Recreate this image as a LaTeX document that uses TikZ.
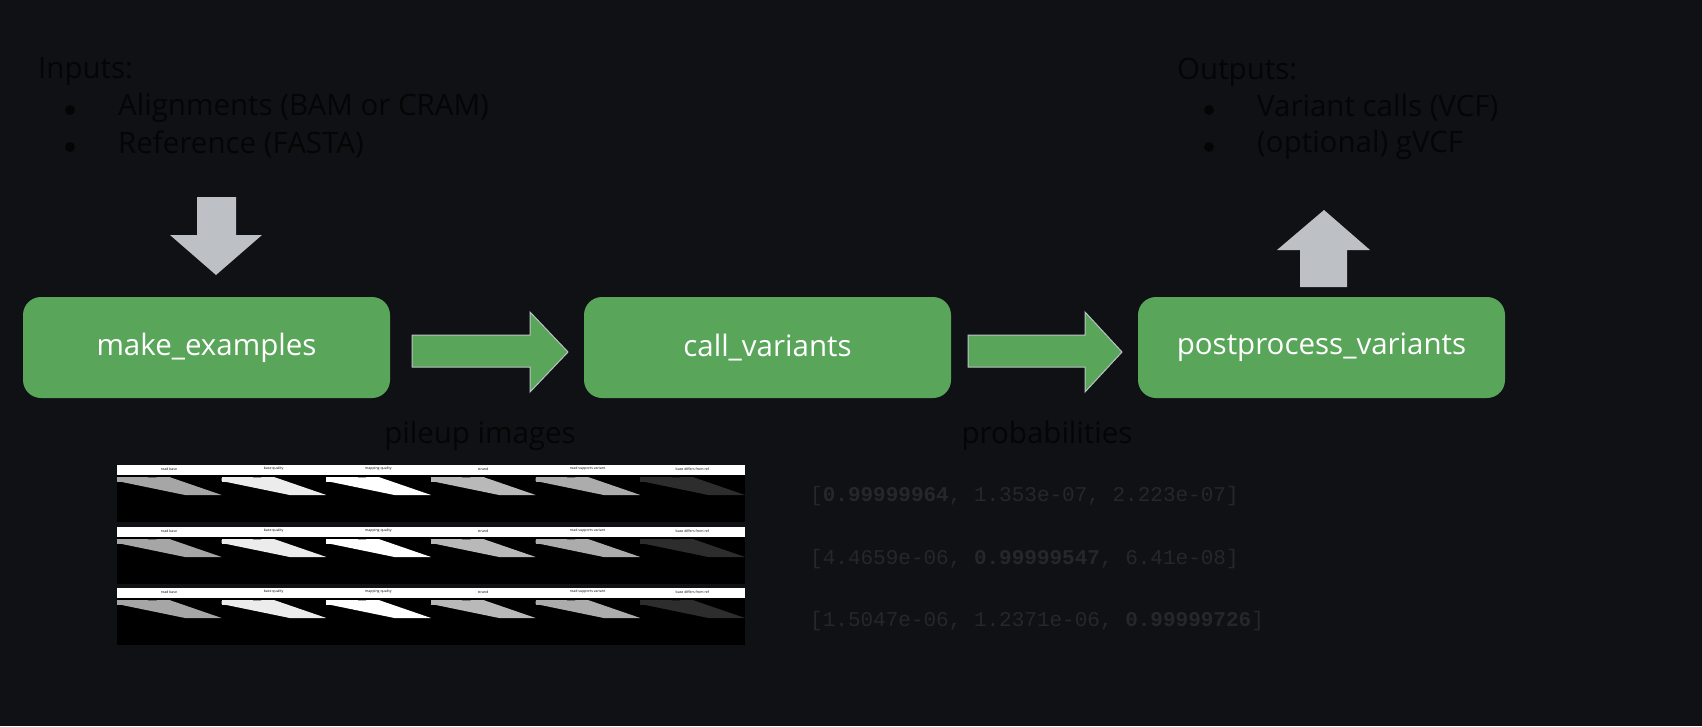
\documentclass[tikz,border=0pt]{standalone}
\usepackage{fontspec}
\setmainfont{Open Sans}
\newfontfamily\monof{Liberation Mono}
\begin{document}
\definecolor{bg}{HTML}{0F1115}
\definecolor{gr}{HTML}{59A55A}
\definecolor{lg}{HTML}{BDC1C6}
\definecolor{tx}{HTML}{050505}
\definecolor{pt}{HTML}{25272B}
\begin{tikzpicture}[x=1pt,y=-1pt,
  box/.style={fill=gr,rounded corners=18pt,minimum width=367pt,minimum height=101pt,text=white,font=\fontsize{29.5}{32}\selectfont,inner sep=0},
  lab/.style={text=tx,font=\fontsize{29.5}{34}\selectfont,anchor=west,inner sep=0},
  bul/.style={circle,fill=tx,minimum size=10pt,inner sep=0},
  prob/.style={text=pt,font=\monof\fontsize{21}{24}\selectfont,anchor=west,inner sep=0},
  hdr/.style={font=\fontsize{3.5}{4}\selectfont,text=black,inner sep=0}]
\fill[bg] (0,0) rectangle (1702,726);
\useasboundingbox (0,0) rectangle (1702,726);
\node[box] (me) at (206.5,347.5) {make\_examples};
\node[box] (cv) at (767.5,347.5) {call\_variants};
\node[box] (pp) at (1321.5,347.5) {postprocess\_variants};
% right arrows
\draw[fill=gr,draw=lg,line width=1pt] (412,335)--(530,335)--(530,312)--(568,352)--(530,392)--(530,367)--(412,367)--cycle;
\draw[fill=gr,draw=lg,line width=1pt] (968,335)--(1085,335)--(1085,312)--(1122,352)--(1085,392)--(1085,367)--(968,367)--cycle;
% down / up arrows
\fill[lg] (197,197)--(236,197)--(236,235)--(262,235)--(216,275)--(170,235)--(197,235)--cycle;
\fill[lg] (1300,287)--(1347,287)--(1347,250)--(1370,250)--(1324,210)--(1277,250)--(1300,250)--cycle;
% text
\node[lab] (in) at (38,72) {Inputs:};
\node[bul] (b1) at (70,110) {};
\node[lab] (i1) at (118,108) {Alignments (BAM or CRAM)};
\node[bul] (b2) at (70,147) {};
\node[lab] (i2) at (118,145) {Reference (FASTA)};
\node[lab] (out) at (1177,72) {Outputs:};
\node[bul] (b3) at (1209,110) {};
\node[lab] (o1) at (1257,108) {Variant calls (VCF)};
\node[bul] (b4) at (1209,147) {};
\node[lab] (o2) at (1257,145) {(optional) gVCF};
\node[lab,anchor=center] (pl) at (480,436) {pileup images};
\node[lab,anchor=center] (pr) at (1047,436) {probabilities};
\node[prob] (p1) at (810,496) {[\textbf{0.99999964}, 1.353e-07, 2.223e-07]};
\node[prob] (p2) at (810,559) {[4.4659e-06, \textbf{0.99999547}, 6.41e-08]};
\node[prob] (p3) at (810,621) {[1.5047e-06, 1.2371e-06, \textbf{0.99999726}]};
% pileups
\foreach \r/\y in {0/465,1/527,2/588}{
 \foreach \c/\t/\col in {0/read base/gray!70,1/base quality/gray!15,2/mapping quality/white,3/strand/gray!55,4/read supports variant/gray!65,5/base differs from ref/gray!35!black}{
  \pgfmathsetmacro\xa{117+\c*104.67}
  \fill[black] (\xa,\y) rectangle ++(104.67,57);
  \fill[white] (\xa,\y) rectangle ++(104.67,10);
  \node[hdr] at (\xa+52,\y+4) {\t};
  \fill[\col] (\xa,\y+13)--(\xa+0.5*104.67,\y+12)--(\xa+104.67,\y+30)--(\xa+0.65*104.67,\y+30)--(\xa,\y+16)--cycle;
  \fill[\col] (\xa,\y+12) rectangle (\xa+0.3*104.67,\y+17);
 }
}
\end{tikzpicture}
\end{document}
